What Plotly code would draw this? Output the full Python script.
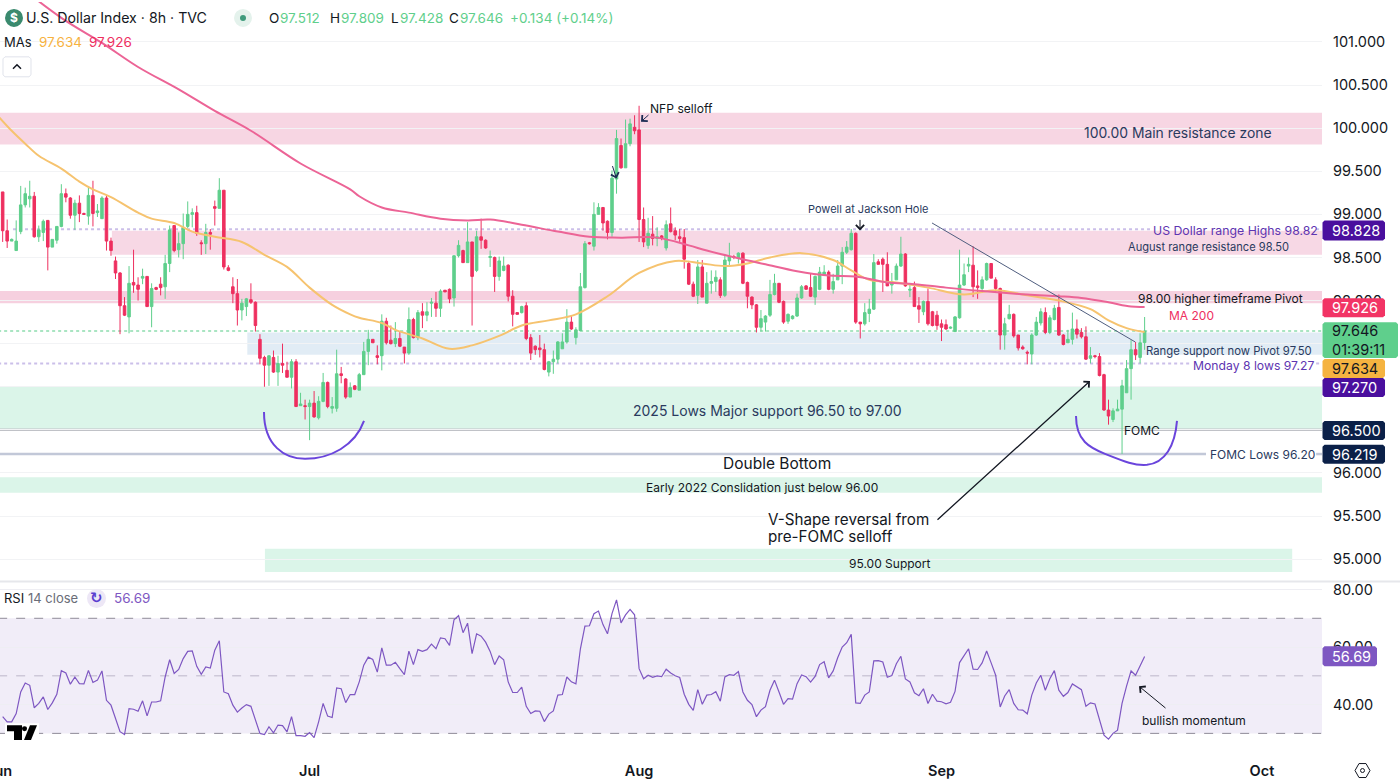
import plotly.graph_objects as go

W = 1400
H = 783

# 8h candles
opens = [
  99.26, 98.81, 98.69, 98.58, 98.80, 99.11, 99.18, 99.21, 98.74, 98.79,
  98.93, 98.62, 98.70, 98.86, 99.24, 99.19, 98.99, 99.13, 99.01, 98.98,
  99.22, 99.02, 98.95, 99.19, 98.69, 98.46, 98.32, 97.94, 97.81, 98.21,
  98.18, 98.26, 98.28, 97.93, 98.15, 98.19, 98.16, 98.43, 98.87, 98.59,
  98.66, 98.86, 99.00, 99.02, 98.67, 98.66, 98.79, 99.09, 99.07, 99.28,
  98.38, 98.16, 98.08, 97.89, 97.93, 98.01, 97.98, 97.55, 97.34, 97.25,
  97.34, 97.17, 97.27, 97.19, 97.11, 97.29, 96.78, 96.78, 96.77, 96.81,
  96.64, 96.83, 97.05, 96.75, 96.75, 97.15, 97.09, 96.88, 97.01, 96.96,
  97.14, 97.41, 97.55, 97.36, 97.36, 97.76, 97.54, 97.50, 97.56, 97.46,
  97.39, 97.78, 97.57, 97.87, 97.83, 97.97, 97.97, 97.91, 98.12, 98.13,
  98.03, 98.52, 98.58, 98.44, 98.68, 98.35, 98.74, 98.70, 98.50, 98.50,
  98.28, 98.35, 98.41, 98.05, 97.86, 97.86, 97.94, 97.57, 97.47, 97.45,
  97.43, 97.17, 97.29, 97.32, 97.44, 97.52, 97.75, 97.57, 97.65, 98.15,
  98.67, 98.63, 99.00, 99.08, 98.92, 98.79, 99.41, 99.80, 99.54, 99.82,
  100.01, 99.98, 98.94, 98.64, 98.77, 98.72, 98.75, 98.61, 98.89, 98.81,
  98.74, 98.73, 98.43, 98.19, 98.06, 98.39, 97.97, 98.20, 98.22, 98.24,
  98.06, 98.46, 98.51, 98.49, 98.55, 98.21, 98.04, 97.95, 97.69, 97.75,
  97.83, 98.07, 98.20, 97.99, 97.76, 97.79, 97.82, 98.03, 98.17, 98.15,
  98.04, 98.13, 98.29, 98.33, 98.13, 98.24, 98.40, 98.56, 98.59, 98.78,
  97.75, 97.73, 97.85, 97.90, 98.45, 98.48, 98.42, 98.18, 98.24, 98.40,
  98.54, 98.12, 98.15, 97.94, 97.87, 97.99, 97.87, 97.83, 97.73, 97.72,
  97.68, 97.64, 97.80, 98.18, 98.40, 98.41, 98.17, 98.14, 98.24, 98.43,
  98.24, 98.14, 97.60, 97.79, 97.84, 97.60, 97.46, 97.40, 97.38, 97.60,
  97.74, 97.86, 97.63, 97.78, 97.92, 97.60, 97.51, 97.55, 97.67, 97.63,
  97.58, 97.33, 97.36, 97.35, 97.14, 96.73, 96.62, 96.72, 96.74, 96.93,
  97.21, 97.43, 97.34, 97.512]
highs = [
  99.26, 98.94, 98.72, 98.93, 99.33, 99.31, 99.39, 99.26, 98.87, 98.94,
  98.93, 98.71, 98.86, 99.35, 99.30, 99.20, 99.17, 99.22, 99.02, 99.31,
  99.39, 99.12, 99.21, 99.22, 98.73, 98.51, 98.33, 98.04, 98.40, 98.59,
  98.27, 98.37, 98.28, 98.20, 98.16, 98.27, 98.53, 98.87, 98.87, 98.79,
  99.01, 99.15, 99.07, 99.10, 98.70, 98.89, 98.83, 99.16, 99.42, 99.28,
  98.41, 98.27, 98.25, 98.02, 98.03, 98.20, 97.99, 97.61, 97.36, 97.36,
  97.42, 97.36, 97.50, 97.29, 97.32, 97.32, 96.93, 96.85, 96.85, 96.95,
  96.89, 97.16, 97.06, 96.88, 97.43, 97.23, 97.10, 97.05, 97.02, 97.16,
  97.52, 97.66, 97.55, 97.48, 97.84, 97.80, 97.71, 97.75, 97.64, 97.46,
  97.92, 97.80, 97.89, 97.97, 97.98, 98.03, 98.10, 98.13, 98.12, 98.14,
  98.52, 98.70, 98.59, 98.91, 98.68, 98.81, 98.95, 98.71, 98.58, 98.51,
  98.51, 98.51, 98.42, 98.12, 97.86, 97.94, 97.98, 97.61, 97.48, 97.60,
  97.50, 97.30, 97.42, 97.53, 97.62, 97.90, 97.83, 97.69, 98.32, 98.69,
  98.68, 99.14, 99.13, 99.08, 98.93, 99.51, 99.98, 99.88, 100.10, 100.11,
  100.15, 100.26, 99.08, 98.96, 98.98, 98.85, 98.76, 98.93, 99.08, 98.85,
  98.83, 98.83, 98.46, 98.22, 98.47, 98.47, 98.33, 98.35, 98.35, 98.27,
  98.53, 98.67, 98.53, 98.56, 98.56, 98.22, 98.05, 97.96, 97.89, 97.83,
  98.24, 98.31, 98.20, 98.00, 97.85, 97.83, 98.08, 98.18, 98.18, 98.31,
  98.29, 98.39, 98.41, 98.35, 98.31, 98.47, 98.62, 98.69, 98.83, 98.79,
  97.75, 97.97, 98.02, 98.54, 98.48, 98.50, 98.56, 98.32, 98.43, 98.74,
  98.55, 98.19, 98.22, 98.04, 98.00, 98.14, 97.88, 97.88, 97.78, 97.78,
  97.70, 97.82, 98.59, 98.43, 98.50, 98.63, 98.35, 98.28, 98.44, 98.43,
  98.27, 98.15, 97.80, 97.95, 97.85, 97.60, 97.48, 97.42, 97.62, 97.81,
  97.91, 97.92, 97.83, 97.95, 98.07, 97.61, 97.66, 97.86, 97.78, 97.68,
  97.70, 97.46, 97.37, 97.39, 97.15, 96.85, 96.75, 96.85, 97.08, 97.31,
  97.54, 97.52, 97.62, 97.809]
lows = [
  98.68, 98.61, 98.69, 98.58, 98.77, 99.08, 99.08, 98.73, 98.68, 98.69,
  98.35, 98.62, 98.66, 98.85, 99.14, 98.95, 98.82, 98.91, 99.00, 98.88,
  98.86, 98.97, 98.95, 98.58, 98.52, 98.25, 97.61, 97.82, 97.62, 98.09,
  98.00, 98.19, 97.93, 97.69, 98.12, 98.06, 98.02, 98.33, 98.56, 98.50,
  98.48, 98.84, 98.85, 98.75, 98.53, 98.54, 98.59, 98.87, 99.07, 98.36,
  98.34, 97.97, 97.71, 97.77, 97.82, 97.96, 97.64, 97.26, 97.00, 97.01,
  97.16, 97.01, 97.16, 97.11, 96.98, 96.77, 96.78, 96.62, 96.38, 96.64,
  96.62, 96.82, 96.75, 96.69, 96.71, 97.04, 96.86, 96.88, 96.96, 96.96,
  97.14, 97.25, 97.51, 97.26, 97.19, 97.49, 97.49, 97.46, 97.46, 97.27,
  97.37, 97.56, 97.54, 97.68, 97.76, 97.81, 97.81, 97.81, 98.10, 97.97,
  97.93, 98.50, 98.44, 98.44, 97.71, 98.33, 98.60, 98.60, 98.39, 98.10,
  98.23, 98.34, 97.99, 97.70, 97.84, 97.85, 97.54, 97.31, 97.37, 97.34,
  97.19, 97.12, 97.15, 97.27, 97.44, 97.50, 97.66, 97.49, 97.65, 98.14,
  98.65, 98.58, 99.00, 98.81, 98.71, 98.74, 99.24, 99.53, 99.54, 99.79,
  99.93, 98.68, 98.62, 98.60, 98.64, 98.63, 98.70, 98.58, 98.79, 98.70,
  98.68, 98.37, 98.18, 98.04, 97.96, 98.04, 97.97, 98.08, 98.10, 98.03,
  98.04, 98.41, 98.48, 98.43, 98.19, 97.91, 97.90, 97.63, 97.64, 97.64,
  97.81, 98.06, 97.97, 97.73, 97.73, 97.78, 97.81, 98.02, 98.13, 98.04,
  97.95, 98.12, 98.29, 98.12, 98.08, 98.24, 98.19, 98.54, 98.58, 97.73,
  97.56, 97.71, 97.75, 97.89, 98.42, 98.10, 98.17, 98.08, 98.24, 98.39,
  98.16, 98.04, 97.93, 97.74, 97.83, 97.71, 97.70, 97.66, 97.53, 97.66,
  97.67, 97.64, 97.79, 98.17, 98.33, 98.04, 98.02, 98.09, 98.23, 98.26,
  98.09, 97.43, 97.43, 97.78, 97.57, 97.42, 97.43, 97.26, 97.26, 97.59,
  97.71, 97.61, 97.61, 97.77, 97.59, 97.48, 97.51, 97.49, 97.56, 97.56,
  97.31, 97.27, 97.33, 97.12, 96.72, 96.56, 96.59, 96.72, 96.22, 96.93,
  96.85, 97.31, 97.27, 97.428]
closes = [
  98.81, 98.69, 98.71, 98.69, 99.11, 99.24, 99.21, 98.74, 98.82, 98.92,
  98.62, 98.71, 98.86, 99.24, 99.20, 98.99, 99.13, 99.01, 99.00, 99.22,
  99.01, 99.04, 99.19, 98.69, 98.58, 98.32, 97.94, 97.83, 98.20, 98.18,
  98.13, 98.28, 97.93, 98.14, 98.13, 98.15, 98.43, 98.82, 98.58, 98.66,
  98.85, 99.00, 99.02, 98.78, 98.66, 98.79, 98.77, 99.07, 99.28, 98.39,
  98.35, 98.08, 97.89, 97.97, 98.02, 97.98, 97.71, 97.33, 97.25, 97.36,
  97.17, 97.27, 97.25, 97.11, 97.29, 96.77, 96.80, 96.77, 96.81, 96.65,
  96.83, 97.05, 96.77, 96.77, 97.15, 97.13, 96.88, 96.99, 96.97, 97.14,
  97.41, 97.55, 97.51, 97.34, 97.76, 97.51, 97.50, 97.56, 97.47, 97.39,
  97.78, 97.57, 97.86, 97.83, 97.87, 97.98, 97.91, 98.11, 98.10, 98.02,
  98.52, 98.64, 98.44, 98.68, 98.28, 98.74, 98.70, 98.61, 98.51, 98.28,
  98.46, 98.40, 98.05, 97.84, 97.84, 97.93, 97.56, 97.39, 97.43, 97.43,
  97.20, 97.29, 97.32, 97.52, 97.52, 97.75, 97.67, 97.66, 98.16, 98.66,
  98.66, 99.00, 99.08, 98.90, 98.79, 99.42, 99.88, 99.54, 99.82, 100.05,
  99.97, 98.94, 98.68, 98.78, 98.72, 98.74, 98.72, 98.88, 98.80, 98.76,
  98.72, 98.48, 98.19, 98.05, 98.39, 98.04, 98.20, 98.22, 98.27, 98.06,
  98.47, 98.51, 98.50, 98.55, 98.20, 98.05, 97.95, 97.69, 97.79, 97.82,
  98.07, 98.20, 97.98, 97.75, 97.84, 97.82, 98.03, 98.16, 98.13, 98.05,
  98.28, 98.33, 98.33, 98.13, 98.22, 98.40, 98.56, 98.62, 98.78, 97.75,
  97.73, 97.86, 97.90, 98.44, 98.42, 98.42, 98.17, 98.22, 98.40, 98.54,
  98.17, 98.13, 97.93, 97.90, 97.99, 97.73, 97.71, 97.71, 97.69, 97.67,
  97.69, 97.81, 98.18, 98.30, 98.42, 98.16, 98.15, 98.24, 98.43, 98.26,
  98.14, 97.60, 97.73, 97.84, 97.59, 97.45, 97.44, 97.39, 97.60, 97.75,
  97.87, 97.63, 97.80, 97.91, 97.60, 97.49, 97.55, 97.67, 97.61, 97.58,
  97.32, 97.36, 97.35, 97.13, 96.73, 96.66, 96.72, 96.74, 97.01, 97.21,
  97.43, 97.37, 97.51, 97.646]

rsi = [
  35.8, 34.0, 34.0, 36.9, 44.4, 47.5, 46.7, 38.9, 40.4, 42.7,
  38.3, 40.6, 43.6, 51.8, 51.0, 47.1, 49.6, 47.3, 47.2, 51.9,
  47.7, 48.5, 51.7, 41.5, 39.8, 35.2, 30.6, 29.6, 38.6, 38.4,
  37.7, 41.3, 36.1, 40.9, 40.9, 41.3, 49.6, 55.6, 50.8, 52.2,
  56.0, 58.5, 58.7, 53.3, 50.5, 53.1, 52.7, 58.9, 62.2, 44.4,
  43.8, 39.8, 37.4, 38.8, 40.0, 39.4, 34.6, 30.0, 29.6, 32.3,
  30.2, 32.9, 32.7, 30.5, 35.8, 29.2, 29.2, 29.0, 30.3, 28.5,
  34.0, 40.4, 36.0, 35.5, 45.8, 45.5, 40.7, 43.5, 43.5, 47.9,
  53.7, 56.5, 55.7, 51.3, 59.7, 53.7, 53.7, 54.7, 52.5, 50.4,
  58.6, 53.9, 59.1, 58.5, 59.1, 61.0, 59.4, 63.2, 62.9, 60.6,
  69.5, 70.9, 65.0, 68.3, 57.7, 64.6, 63.8, 61.7, 58.5, 53.9,
  56.9, 55.6, 47.9, 44.2, 44.2, 46.1, 39.4, 36.9, 37.8, 37.7,
  34.1, 36.7, 37.8, 43.3, 43.5, 49.6, 47.9, 47.2, 59.4, 67.3,
  67.4, 71.6, 72.5, 67.8, 64.6, 71.6, 76.4, 68.4, 71.2, 73.1,
  71.2, 52.5, 49.0, 50.2, 49.5, 50.0, 49.7, 52.3, 51.0, 50.0,
  49.4, 43.6, 40.1, 38.0, 45.2, 40.1, 43.3, 43.5, 44.5, 41.2,
  49.6, 50.4, 50.2, 51.5, 44.4, 41.5, 40.0, 35.8, 38.1, 39.3,
  45.0, 48.5, 44.4, 40.1, 42.1, 41.9, 47.3, 50.3, 49.7, 47.8,
  49.8, 53.9, 54.9, 49.3, 51.7, 56.3, 60.0, 61.5, 64.4, 40.6,
  40.4, 43.3, 44.4, 55.2, 55.3, 54.8, 49.5, 50.1, 54.2, 56.8,
  48.9, 47.9, 44.1, 43.1, 45.5, 40.4, 43.6, 41.2, 41.0, 40.3,
  40.8, 44.6, 54.6, 57.0, 59.4, 52.3, 52.2, 54.5, 58.6, 54.5,
  50.2, 39.2, 43.0, 45.2, 40.4, 38.2, 38.1, 36.8, 43.3, 47.5,
  50.2, 45.0, 49.0, 51.8, 45.0, 42.9, 44.2, 47.2, 46.1, 45.2,
  39.4, 40.6, 40.2, 35.2, 29.4, 28.0, 30.0, 31.1, 40.4, 46.4,
  51.7, 50.2, 53.5, 56.69]

# moving averages, read at every few candles
ma200_x = [0, 13, 22, 30, 39, 47, 55, 66, 77, 79, 84, 90, 97, 103, 108, 115, 123, 130, 137, 145,
           152, 156, 163, 169, 176, 183, 189, 196, 202, 209, 217, 227, 234, 239, 245, 250, 253]
ma200_y = [101.80, 101.28, 100.99, 100.71, 100.45, 100.20, 99.97, 99.59, 99.29, 99.21, 99.08, 99.02,
           98.95, 98.93, 98.94, 98.88, 98.80, 98.74, 98.73, 98.73, 98.64, 98.58, 98.49, 98.42, 98.34,
           98.29, 98.28, 98.21, 98.19, 98.15, 98.11, 98.07, 98.05, 98.03, 97.98, 97.93, 97.926]
ma50_x = [-1, 2, 5, 8, 13, 17, 20, 24, 30, 33, 38, 42, 47, 53, 58, 63, 68, 73, 77, 79, 84, 87, 93, 99,
          104, 110, 115, 121, 127, 134, 141, 149, 155, 160, 165, 170, 177, 184, 188, 192, 198, 205,
          213, 220, 227, 234, 241, 245, 249, 253]
ma50_y = [100.14, 99.97, 99.82, 99.68, 99.53, 99.38, 99.29, 99.20, 99.02, 98.95, 98.90, 98.80, 98.74,
          98.68, 98.53, 98.39, 98.15, 97.95, 97.84, 97.80, 97.74, 97.66, 97.56, 97.44, 97.48, 97.59,
          97.71, 97.77, 97.84, 98.05, 98.32, 98.46, 98.43, 98.40, 98.43, 98.50, 98.55, 98.47, 98.35,
          98.24, 98.21, 98.15, 98.07, 98.12, 98.06, 98.00, 97.90, 97.77, 97.68, 97.634]

trend_x = [205.9, 250.9]
trend_y = [98.90, 97.52]

price_ticks = [95.0, 95.5, 96.0, 96.5, 97.0, 97.5, 98.0, 98.5, 99.0, 99.5, 100.0, 100.5, 101.0]
price_labels = ['95.000', '95.500', '96.000', '96.500', '97.000', '97.500', '98.000', '98.500',
                '99.000', '99.500', '100.000', '100.500', '101.000']
rsi_ticks = [40, 60, 80]
rsi_labels = ['40.00', '60.00', '80.00']
# Jun sits half off the left edge, it is added as a note further down
month_ticks = [68, 141, 208, 279]
month_labels = ['Jul', 'Aug', 'Sep', 'Oct']

# price zones: x0, x1 (candle number), low, high
zone_x0 = [-1, 24.2, -1, 54.2, -1, -1, 58.1]
zone_x1 = [292.3, 292.3, 292.3, 292.3, 292.3, 292.3, 285.7]
zone_lo = [99.81, 98.53, 97.97, 97.37, 96.50, 95.77, 94.85]
zone_hi = [100.18, 98.81, 98.11, 97.63, 97.00, 95.95, 95.12]
zone_col = ['rgba(215,50,115,0.2)', 'rgba(215,50,115,0.19)', 'rgba(215,50,115,0.23)', 'rgba(66,139,190,0.16)',
            'rgba(76,205,143,0.2)', 'rgba(76,205,143,0.2)', 'rgba(76,205,143,0.2)']

# horizontal levels, the broken ones come back for a few pixels after their text
level_val = [98.828, 97.27, 97.646, 96.5, 96.219, 98.828, 97.27, 96.219]
level_x0 = [2.3, -1, -1, -1, -1, 291, 291, 291]
level_x1 = [254.2, 263, 292.3, 292.3, 266.6, 292.3, 292.3, 292.3]
level_col = ['#cbbfe9', '#cbbfe9', '#a9e5c2', '#c0c2c7', '#c2c8d8', '#cbbfe9', '#cbbfe9', '#c2c8d8']
level_dash = ['dot', 'dot', 'dot', 'solid', 'solid', 'dot', 'dot', 'solid']
level_w = [2, 2, 2, 2.5, 2.5, 2, 2, 2.5]

GREEN = '#5fcf8c'
RED = '#ee2f5f'
INK = '#131722'
NAVY = '#2a3a5e'
PURPLE = '#5e35b1'


def px(x):
  return x / W


def py(y):
  return 1 - y / H


def path_px(s):
  # svg path written in screen pixels -> paper coordinates
  out = []
  for tok in s.split():
    if ',' in tok:
      a, b = tok.split(',')
      out.append(f'{px(float(a)):.5f},{py(float(b)):.5f}')
    else:
      out.append(tok)
  return ' '.join(out)


def round_box(x0, y0, x1, y1, r=2):
  return path_px(f'M {x0 + r},{y0} L {x1 - r},{y0} L {x1},{y0 + r} L {x1},{y1 - r} L {x1 - r},{y1} L {x0 + r},{y1} L {x0},{y1 - r} L {x0},{y0 + r} Z')


fig = go.Figure()

fig.add_trace(go.Candlestick(
  x=list(range(len(opens))), open=opens, high=highs, low=lows, close=closes,
  increasing=dict(line=dict(color=GREEN, width=1), fillcolor=GREEN),
  decreasing=dict(line=dict(color=RED, width=1), fillcolor=RED),
  whiskerwidth=0, hoverinfo='skip', yaxis='y'))
fig.add_trace(go.Scatter(x=ma50_x, y=ma50_y, mode='lines', line=dict(color='#f6c36f', width=2), line_shape='spline', hoverinfo='skip'))
fig.add_trace(go.Scatter(x=ma200_x, y=ma200_y, mode='lines', line=dict(color='#ec6496', width=2), line_shape='spline', hoverinfo='skip'))
fig.add_trace(go.Scatter(x=trend_x, y=trend_y, mode='lines', line=dict(color='#4f5d7e', width=1), hoverinfo='skip'))
fig.add_trace(go.Scatter(x=list(range(len(rsi))), y=rsi, mode='lines', line=dict(color='#7e57c2', width=1.2), yaxis='y2', hoverinfo='skip'))

shapes = []
for x0, x1, lo, hi, col in zip(zone_x0, zone_x1, zone_lo, zone_hi, zone_col):
  shapes.append(dict(type='rect', xref='x', yref='y', x0=x0, x1=x1, y0=lo, y1=hi, fillcolor=col, line_width=0, layer='below'))
for val, x0, x1, col, dash, w in zip(level_val, level_x0, level_x1, level_col, level_dash, level_w):
  shapes.append(dict(type='line', xref='x', yref='y', x0=x0, x1=x1, y0=val, y1=val, line=dict(color=col, dash=dash, width=w), layer='below'))
# RSI band and its dashed limits
shapes.append(dict(type='rect', xref='x', yref='y2', x0=-1, x1=292.3, y0=30, y1=70, fillcolor='rgba(126,87,194,0.11)', line_width=0, layer='below'))
for val, col in [(70, '#8f8b98'), (50, '#bcb7c9'), (30, '#8f8b98')]:
  shapes.append(dict(type='line', xref='x', yref='y2', x0=-1, x1=292.3, y0=val, y1=val, line=dict(color=col, dash='dash', width=1), layer='below'))

paper = dict(xref='paper', yref='paper')
# pane separator
shapes.append(dict(type='line', x0=0, x1=1, y0=py(581), y1=py(581), line=dict(color='#e6e7eb', width=2), **paper))
# double bottom arcs
shapes.append(dict(type='path', path=path_px('M 264,411 C 264,445 285,458 305,458 C 330,458 355,445 364,420'), line=dict(color='#6a45dc', width=2), **paper))
shapes.append(dict(type='path', path=path_px('M 1076,415 C 1076,440 1090,447 1105,453 C 1125,461 1135,465 1147,464 C 1165,462 1175,445 1177,420'), line=dict(color='#6a45dc', width=2), **paper))
# top left icons
shapes.append(dict(type='circle', x0=px(5), x1=px(23), y0=py(25), y1=py(7), fillcolor='#3a8a6e', line_width=0, **paper))
shapes.append(dict(type='circle', x0=px(234), x1=px(252), y0=py(25), y1=py(7), fillcolor='#e4f2ec', line_width=0, **paper))
shapes.append(dict(type='circle', x0=px(240), x1=px(246), y0=py(19), y1=py(13), fillcolor='#3f9b7c', line_width=0, **paper))
shapes.append(dict(type='path', path=round_box(3, 55, 31, 75), line=dict(color='#e0e3eb', width=1), fillcolor='#ffffff', **paper))
shapes.append(dict(type='path', path=path_px('M 13,67 L 17,63 L 21,67'), line=dict(color=INK, width=1.5), **paper))
# rsi legend icon
shapes.append(dict(type='circle', x0=px(87), x1=px(106), y0=py(607.5), y1=py(588.5), fillcolor='#ede7f6', line_width=0, **paper))
# tradingview mark
shapes.append(dict(type='rect', x0=px(5), x1=px(39), y0=py(742), y1=py(723), fillcolor='#ffffff', line_width=0, **paper))
shapes.append(dict(type='path', path=path_px('M 7,725 L 22,725 L 22,740 L 14,740 L 14,731 L 7,731 Z'), fillcolor='#000000', line_width=0, **paper))
shapes.append(dict(type='circle', x0=px(22), x1=px(27), y0=py(731), y1=py(726), fillcolor='#000000', line_width=0, **paper))
shapes.append(dict(type='path', path=path_px('M 37,725 L 31,740 L 24,740 L 30,725 Z'), fillcolor='#000000', line_width=0, **paper))
# settings hexagon
shapes.append(dict(type='path', path=path_px('M 1355,770.5 L 1359,763.5 L 1366,763.5 L 1370,770.5 L 1366,777.5 L 1359,777.5 Z'), line=dict(color=INK, width=1), **paper))
shapes.append(dict(type='circle', x0=px(1360.5), x1=px(1364.5), y0=py(772.5), y1=py(768.5), line=dict(color=INK, width=1), **paper))

annots = []


def label(text, x, y, size=12, color=INK, anchor='left', font='Inter', weight=400):
  annots.append(dict(text=text, x=px(x), y=py(y), xref='paper', yref='paper', xanchor=anchor, yanchor='middle',
                     showarrow=False, align='left', borderpad=0, borderwidth=0,
                     font=dict(family=font, size=size, color=color, weight=weight)))


def tag(text, y0, y1, bg, fg='#ffffff', right=1385):
  # coloured box on the axis, the number sits left aligned inside
  shapes.append(dict(type='path', path=round_box(1322.5, y0, right, y1), fillcolor=bg, line_width=0, **paper))
  label(text, 1331.5, (y0 + y1) / 2, 14.5, fg)


def arrow(x0, y0, x1, y1, color=INK, width=1, size=1.6, head=4):
  annots.append(dict(text='', x=px(x1), y=py(y1), xref='paper', yref='paper', ax=x0 - x1, ay=y0 - y1, axref='pixel', ayref='pixel',
                     showarrow=True, arrowhead=head, arrowsize=size, arrowwidth=width, arrowcolor=color))


# header
label('$', 14, 16, 12, '#ffffff', 'center', weight=700)
label('U.S. Dollar Index · 8h · TVC', 26, 16, 14.2)
for txt, x, col in [('O', 269, INK), ('97.512', 280, GREEN), ('H', 330, INK), ('97.809', 341, GREEN), ('L', 391, INK),
                    ('97.428', 400, GREEN), ('C', 449, INK), ('97.646', 460, GREEN), ('+0.134 (+0.14%)', 510, GREEN)]:
  label(txt, x, 16, 13.5, col)
label('MAs', 4, 40, 13)
label('97.634', 39, 40, 13.5, '#f7b23e')
label('97.926', 89, 40, 13.5, RED)

# chart notes
label('NFP selloff', 650, 107, 12.1)
label('100.00 Main resistance zone', 1084, 131, 13.9, NAVY)
label('Powell at Jackson Hole', 808, 208, 11, NAVY)
label('US Dollar range Highs 98.82', 1153, 229, 12.3, PURPLE)
label('August range resistance 98.50', 1128, 246, 11.1, NAVY)
label('98.00 higher timeframe Pivot', 1138, 297, 12)
label('MA 200', 1169, 314, 12, RED)
label('Range support now Pivot 97.50', 1146, 350, 11.3, NAVY)
label('Monday 8 lows 97.27', 1193, 364, 12.2, PURPLE)
label('2025 Lows Major support 96.50 to 97.00', 633, 410, 14, NAVY)
label('FOMC', 1124, 430, 12)
label('FOMC Lows 96.20', 1210, 454, 12, NAVY)
label('Double Bottom', 723, 463, 15.5)
label('Early 2022 Conslidation just below 96.00', 646, 487, 12)
label('V-Shape reversal from', 768, 519, 15.2)
label('pre-FOMC selloff', 768, 536, 15.2)
label('95.00 Support', 849, 563, 12)
label('bullish momentum', 1142, 720, 12)
label('RSI', 4, 598, 13)
label('14 close', 28, 598, 13, '#6a6d78')
label('↻', 96.5, 597.5, 15, '#5b3fd0', 'center', 'DejaVu Sans', 700)
label('56.69', 114, 598, 13.5, '#7e57c2')
label('Jun', -1, 770.5, 14.5, INK, 'center', weight=600)

arrow(650, 112, 641, 120, '#1c2c54')
arrow(612, 163, 616.5, 177, '#1c2c54')
arrow(860, 217, 860, 229, INK)
arrow(936, 520, 1090, 380, INK, 1.3, 1.2)
arrow(1167, 709, 1139, 686, INK)

# price tags on the axis
tag('98.828', 219, 239, '#4a0f9e')
tag('97.926', 297, 316, '#f23465')
tag('97.646<br>01:39:11', 321, 357, GREEN, INK, 1398)
tag('97.634', 358, 377, '#f5b340', INK)
tag('97.270', 377, 396, '#4a0f9e')
tag('96.500', 420, 439, '#0b2048')
tag('96.219', 444, 463, '#0b2048')
tag('56.69', 646, 666, '#7e57c2', '#ffffff', 1377)

tickfont = dict(family='Inter', size=14.5, color=INK)

fig.update_layout(
  width=W, height=H, autosize=False,
  margin=dict(l=0, r=0, t=0, b=0),
  paper_bgcolor='#ffffff', plot_bgcolor='#ffffff',
  showlegend=False, hovermode=False, boxgap=0.2,
  shapes=shapes, annotations=annots,
  xaxis=dict(domain=[0, 1322 / W], range=[-0.59, 292.3], anchor='y2', showgrid=False, zeroline=False, showline=False,
             rangeslider=dict(visible=False), tickmode='array', tickvals=month_ticks, ticktext=month_labels, ticks='',
             ticklabelstandoff=9, tickfont=dict(family='Inter', size=14.5, color=INK, weight=600), fixedrange=True),
  yaxis=dict(domain=[1 - 581 / H, 1], range=[94.74, 101.464], side='right', anchor='x', tickmode='array', tickvals=price_ticks,
             ticktext=price_labels, tickfont=tickfont, ticks='', ticklabelstandoff=10, gridcolor='#f2f3f5', gridwidth=1,
             zeroline=False, showline=False, fixedrange=True),
  yaxis2=dict(domain=[1 - 751 / H, 1 - 582 / H], range=[23.85, 82.43], side='right', anchor='x', tickmode='array', tickvals=rsi_ticks,
              ticktext=rsi_labels, tickfont=tickfont, ticks='', ticklabelstandoff=10, gridcolor='#eeeef3', gridwidth=1,
              zeroline=False, showline=False, fixedrange=True),
)

fig.write_html("out.html", config=dict(displayModeBar=False),
               post_script="document.body.style.margin='0';document.body.style.overflow='hidden';")
